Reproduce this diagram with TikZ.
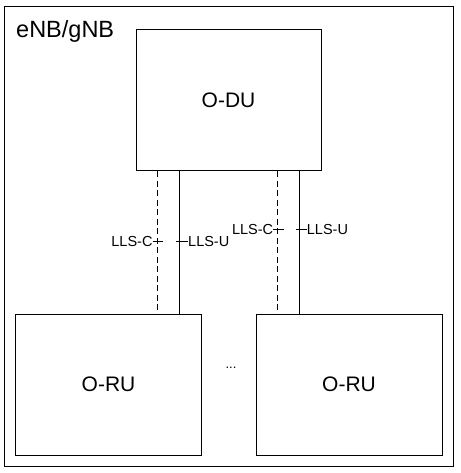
\documentclass[tikz,border=0pt]{standalone}
\usepackage{fontspec}
\setmainfont{Liberation Sans}
\begin{document}
\begin{tikzpicture}[x=1pt,y=-1pt,
  box/.style={draw,line width=1pt,inner sep=0pt,font=\fontsize{21}{24}\selectfont},
  lbl/.style={inner sep=0pt,font=\fontsize{14.5}{16}\selectfont},
  link/.style={line width=1pt},
  ctl/.style={line width=1pt,dash pattern=on 6pt off 3.5pt},
  tick/.style={line width=1pt}]
\useasboundingbox (0,0) rectangle (460,473);
\node[draw,line width=1pt,minimum width=449pt,minimum height=459pt,inner sep=0pt] (enb) at (228.5,236.5) {};
\node[anchor=base west,inner sep=0pt,font=\fontsize{23.5}{26}\selectfont] (enblbl) at (16,38) {eNB/gNB};
\node[box,minimum width=185pt,minimum height=141pt] (du) at (228.5,100) {O-DU};
\node[box,minimum width=186pt,minimum height=141pt] (ru1) at (108.5,384.5) {O-RU};
\node[box,minimum width=186pt,minimum height=141pt] (ru2) at (349,384.5) {O-RU};
\node[inner sep=0pt,font=\fontsize{13}{14}\selectfont] (dots) at (231,368) {...};
% x positions of the links
\coordinate (c1) at (157.3,0);
\coordinate (u1) at (179.3,0);
\coordinate (c2) at (277.3,0);
\coordinate (u2) at (299.3,0);
\draw[ctl] (du.south -| c1) -- (ru1.north -| c1);
\draw[link] (du.south -| u1) -- (ru1.north -| u1);
\draw[ctl] (du.south -| c2) -- (ru2.north -| c2);
\draw[link] (du.south -| u2) -- (ru2.north -| u2);
% labels
\node[lbl,anchor=east] (lc1) at (152.7,241.7) {LLS-C};
\node[lbl,anchor=west] (lu1) at (188,241.7) {LLS-U};
\node[lbl,anchor=east] (lc2) at (273.3,229.3) {LLS-C};
\node[lbl,anchor=west] (lu2) at (306.7,229.3) {LLS-U};
\coordinate (tc1) at (163,241.7);
\coordinate (tu1) at (176,241.7);
\coordinate (tc2) at (284,229.3);
\coordinate (tu2) at (296,229.3);
\draw[tick] (lc1.east) -- (tc1);
\draw[tick] (lu1.west) -- (tu1);
\draw[tick] (lc2.east) -- (tc2);
\draw[tick] (lu2.west) -- (tu2);
\end{tikzpicture}
\end{document}
